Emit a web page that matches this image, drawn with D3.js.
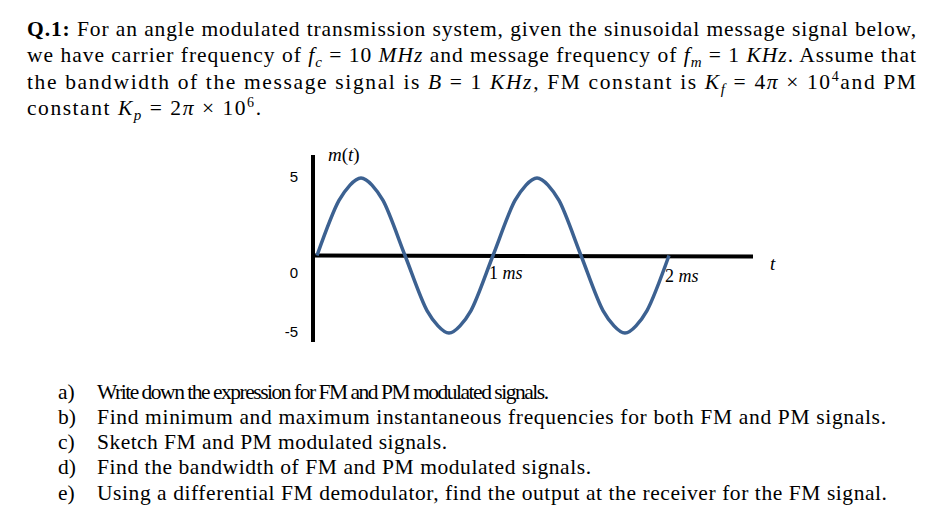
<!DOCTYPE html>
<html><head><meta charset="utf-8">
<script src="https://cdn.jsdelivr.net/npm/d3@7"></script>
<style>body{margin:0;background:#fff}</style>
</head><body><svg id="c" width="945" height="524"></svg>
<script>
// message signal, t in ms
var times = [0, 0.125, 0.25, 0.375, 0.5, 0.625, 0.75, 0.875, 1, 1.125, 1.25, 1.375, 1.5, 1.625, 1.75, 1.875, 2]
var values = [0, 3.55, 5, 3.55, 0, -3.55, -5, -3.55, 0, 3.55, 5, 3.55, 0, -3.55, -5, -3.55, 0]
var yTicks = [5, 0, -5]
var xLabels = ["1 ms", "2 ms"]
var xLabelTimes = [1, 2]

var svg = d3.select("#c")
var serif = "'Liberation Serif', serif"

// question text, each line is a list of [text, style]
var header = [
  {y: 36, len: 889, parts: [["Q.1:", "b"], [" For an angle modulated transmission system, given the sinusoidal message signal below,", ""]]},
  {y: 62, len: 889, parts: [["we have carrier frequency of ", ""], ["f", "i"], ["c", "sub"], [" = 10 ", ""], ["MHz", "i"], [" and message frequency of ", ""], ["f", "i"], ["m", "sub"], [" = 1 ", ""], ["KHz", "i"], [". Assume that", ""]]},
  {y: 89, len: 889, parts: [["the bandwidth of the message signal is ", ""], ["B", "i"], [" = 1 ", ""], ["KHz", "i"], [",  FM constant is ", ""], ["K", "i"], ["f", "sub"], [" = 4", ""], ["π", "i"], [" × 10", ""], ["4", "sup"], ["and  PM", ""]]},
  {y: 115, len: 234, parts: [["constant ", ""], ["K", "i"], ["p", "sub"], [" = 2", ""], ["π", "i"], [" × 10", ""], ["6", "sup"], [".", ""]]}
]
header.forEach(function(l){
  var t = svg.append("text").attr("x", 27).attr("y", l.y)
    .attr("font-family", serif).attr("font-size", 21.5).attr("fill", "#000")
    .attr("textLength", l.len).attr("lengthAdjust", "spacing")
  l.parts.forEach(function(p){
    var s = t.append("tspan").text(p[0]).attr("y", l.y)
    if (p[1] == "b") s.attr("font-weight", "bold")
    if (p[1] == "i") s.attr("font-style", "italic")
    if (p[1] == "sub") s.attr("font-style", "italic").attr("font-size", 15).attr("y", l.y + 5)
    if (p[1] == "sup") s.attr("font-size", 14).attr("y", l.y - 8)
  })
})

var items = [
  ["a)", "Write down the expression for FM and PM modulated signals.", 399],
  ["b)", "Find minimum and maximum instantaneous frequencies for both FM and PM signals.", 424],
  ["c)", "Sketch FM and PM modulated signals.", 449],
  ["d)", "Find the bandwidth of FM and PM modulated signals.", 474],
  ["e)", "Using a differential FM demodulator, find the output at the receiver for the FM signal.", 500]
]
var itemLen = [452, 789, 350, 494, 790]
items.forEach(function(it, i){
  svg.append("text").attr("x", 58).attr("y", it[2]).text(it[0])
    .attr("font-family", serif).attr("font-size", 21.5)
  svg.append("text").attr("x", 97).attr("y", it[2]).text(it[1])
    .attr("font-family", serif).attr("font-size", 21.5)
    .attr("textLength", itemLen[i]).attr("lengthAdjust", "spacing")
})

// chart
var x = d3.scaleLinear().domain([0, 2]).range([317, 669])
var y = d3.scaleLinear().domain([-5, 5]).range([333, 178])

svg.append("line").attr("x1", 313).attr("x2", 313).attr("y1", 155).attr("y2", 342)
  .attr("stroke", "#000").attr("stroke-width", 4)
svg.append("line").attr("x1", 313).attr("x2", 753).attr("y1", y(0)).attr("y2", y(0) + 1)
  .attr("stroke", "#000").attr("stroke-width", 4)

var line = d3.line().x(function(d, i){ return x(times[i]) }).y(function(d){ return y(d) })
  .curve(d3.curveCardinal.tension(0.15))
svg.append("path").datum(values).attr("d", line)
  .attr("fill", "none").attr("stroke", "#3c6191").attr("stroke-width", 3.5)

svg.selectAll(".yt").data(yTicks).enter().append("text")
  .attr("x", 298).attr("y", function(d){ return d == 0 ? y(0) + 22 : y(d) + 4 })
  .attr("text-anchor", "end").attr("font-family", "'Liberation Sans', sans-serif")
  .attr("font-size", 15).text(function(d){ return d })

svg.selectAll(".xt").data(xLabels).enter().append("text")
  .attr("x", function(d, i){ return x(xLabelTimes[i]) - 4 })
  .attr("y", function(d, i){ return y(0) + 23 + i * 3 })
  .attr("font-family", serif).attr("font-size", 18)
  .html(function(d){ return d.split(" ")[0] + ' <tspan font-style="italic">' + d.split(" ")[1] + "</tspan>" })

svg.append("text").attr("x", 328).attr("y", 161).attr("font-family", serif)
  .attr("font-size", 19).html('<tspan font-style="italic">m</tspan>(<tspan font-style="italic">t</tspan>)')
svg.append("text").attr("x", 770).attr("y", 270).attr("font-family", serif)
  .attr("font-size", 19).attr("font-style", "italic").text("t")
</script></body></html>
